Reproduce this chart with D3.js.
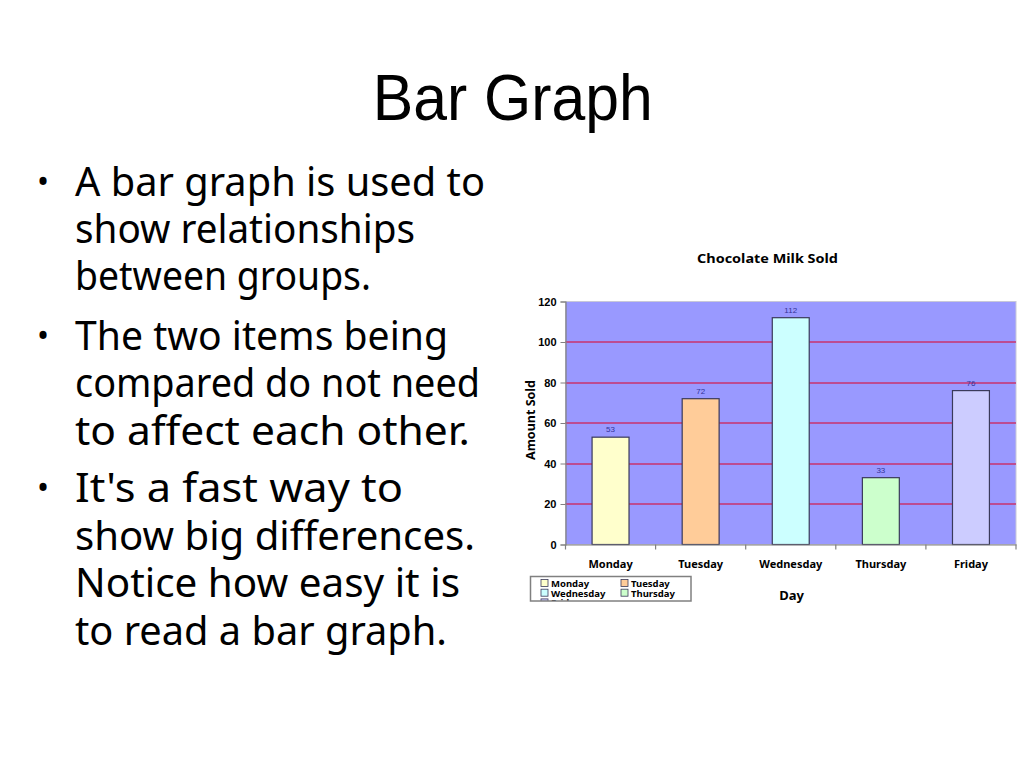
<!DOCTYPE html>
<html><head><meta charset="utf-8">
<script src="https://cdn.jsdelivr.net/npm/d3@7"></script>
<style>html,body{margin:0;padding:0;background:#fff;}svg{display:block;}</style>
</head><body>
<svg id="c" width="1024" height="768"></svg>
<script>
// ---- data ----
const slideTitle = "Bar Graph";
const bullets = [
  ["A bar graph is used to", "show relationships", "between groups."],
  ["The two items being", "compared do not need", "to affect each other."],
  ["It's a fast way to", "show big differences.", "Notice how easy it is", "to read a bar graph."]
];
const chartTitle = "Chocolate Milk Sold";
const days = ["Monday", "Tuesday", "Wednesday", "Thursday", "Friday"];
const sold = [53, 72, 112, 33, 76];
const yTicks = [0, 20, 40, 60, 80, 100, 120];
const xAxisTitle = "Day";
const yAxisTitle = "Amount Sold";
const barColors = ["#FFFFCC", "#FFCC99", "#CCFFFF", "#CCFFCC", "#CCCCFF"];

// ---- layout ----
const svg = d3.select("#c");
const comic = "'Noto Sans', 'DejaVu Sans', sans-serif";
const arial = "'Liberation Sans', Arial, sans-serif";

svg.append("text").attr("x", 512.7).attr("y", 120).attr("text-anchor", "middle")
  .attr("font-family", arial).attr("font-size", 65).attr("fill", "#000")
  .attr("textLength", 280).attr("lengthAdjust", "spacingAndGlyphs").text(slideTitle);

const paraBaselines = [[196, 243, 290], [350, 397, 445], [502, 550, 597, 645]];
const lineWidths = [[410, 340, 296], [373, 405, 395], [328, 400, 385, 372]];
bullets.forEach((para, pi) => {
  svg.append("text").attr("x", 43).attr("y", paraBaselines[pi][0] - 3)
    .attr("text-anchor", "middle").attr("font-family", comic).attr("font-size", 32)
    .attr("fill", "#000").text("\u2022");
  para.forEach((line, li) => {
    svg.append("text").attr("x", 75).attr("y", paraBaselines[pi][li])
      .attr("font-family", comic).attr("font-size", 40).attr("fill", "#000")
      .attr("textLength", lineWidths[pi][li]).attr("lengthAdjust", "spacingAndGlyphs")
      .text(line);
  });
});

// ---- chart ----
const L = 565.5, R = 1016, T = 301.5, B = 544.5;
const x = d3.scaleBand().domain(days).range([L, R]).padding(0);
const y = d3.scaleLinear().domain([0, 120]).range([B, T]);
const barW = x.bandwidth() * 0.41;

svg.append("text").attr("x", 767.5).attr("y", 263).attr("text-anchor", "middle")
  .attr("font-family", comic).attr("font-weight", "bold").attr("font-size", 13)
  .attr("textLength", 141).attr("lengthAdjust", "spacingAndGlyphs").text(chartTitle);

svg.append("rect").attr("x", L).attr("y", T).attr("width", R - L).attr("height", B - T)
  .attr("fill", "#9999FF").attr("stroke", "#c8c8d8").attr("stroke-width", 1);

const gy = d => Math.round(y(d));
svg.append("g").selectAll("line").data(yTicks.filter(t => t > 0 && t < 120)).join("line")
  .attr("x1", L).attr("x2", R).attr("y1", gy).attr("y2", gy)
  .attr("stroke", "#C8336E").attr("stroke-width", 1.5);

svg.append("g").selectAll("rect").data(days).join("rect")
  .attr("x", (d) => x(d) + (x.bandwidth() - barW) / 2)
  .attr("y", (d, i) => y(sold[i]))
  .attr("width", barW)
  .attr("height", (d, i) => B - y(sold[i]))
  .attr("fill", (d, i) => barColors[i])
  .attr("stroke", "#3a3a5a").attr("stroke-width", 1.2);

svg.append("g").selectAll("text").data(days).join("text")
  .attr("x", d => x(d) + x.bandwidth() / 2)
  .attr("y", (d, i) => y(sold[i]) - 5)
  .attr("text-anchor", "middle").attr("font-family", arial).attr("font-size", 8)
  .attr("fill", "#333399").text((d, i) => sold[i]);

// y axis
const yAxis = svg.append("g").attr("transform", `translate(${L},0)`)
  .call(d3.axisLeft(y).tickValues(yTicks).tickSize(5).tickPadding(4));
yAxis.select(".domain").attr("stroke", "#808080").attr("stroke-width", 1.2);
yAxis.selectAll(".tick line").attr("stroke", "#808080");
yAxis.selectAll(".tick text").attr("font-family", arial).attr("font-weight", "bold")
  .attr("font-size", 11).attr("fill", "#000");

// x axis
const xAxis = svg.append("g").attr("transform", `translate(0,${B})`)
  .call(d3.axisBottom(x).tickSize(0).tickPadding(18));
xAxis.select(".domain").attr("stroke", "#808080").attr("stroke-width", 1.2);
xAxis.selectAll(".tick text").attr("font-family", comic).attr("font-weight", "bold")
  .attr("font-size", 11).attr("fill", "#000").attr("dy", 0).attr("y", 23.5);
const bounds = days.map(d => x(d)).concat([x(days[days.length - 1]) + x.step()]);
svg.append("g").selectAll("line").data(bounds).join("line")
  .attr("x1", d => d).attr("x2", d => d).attr("y1", B).attr("y2", B + 5)
  .attr("stroke", "#808080").attr("stroke-width", 1.2);

svg.append("text").attr("x", 791.5).attr("y", 600).attr("text-anchor", "middle")
  .attr("font-family", comic).attr("font-weight", "bold").attr("font-size", 13)
  .text(xAxisTitle);
svg.append("text").attr("transform", "translate(535,420) rotate(-90)")
  .attr("text-anchor", "middle").attr("font-family", comic).attr("font-weight", "bold")
  .attr("font-size", 13).attr("textLength", 80).attr("lengthAdjust", "spacingAndGlyphs")
  .text(yAxisTitle);

// legend (clipped like the original)
const lg = { x: 530.5, y: 576.5, w: 160.5, h: 24.5 };
svg.append("clipPath").attr("id", "lgclip").append("rect")
  .attr("x", lg.x).attr("y", lg.y).attr("width", lg.w).attr("height", lg.h);
svg.append("rect").attr("x", lg.x).attr("y", lg.y).attr("width", lg.w).attr("height", lg.h)
  .attr("fill", "#fff");
const lgItems = svg.append("g").attr("clip-path", "url(#lgclip)");
days.forEach((d, i) => {
  const col = i % 2, row = Math.floor(i / 2);
  const sx = lg.x + 10.5 + col * 80, by = 587 + row * 9.7;
  lgItems.append("rect").attr("x", sx).attr("y", by - 7.5).attr("width", 7).attr("height", 7)
    .attr("fill", barColors[i]).attr("stroke", "#3a3a5a").attr("stroke-width", 0.8);
  lgItems.append("text").attr("x", sx + 10).attr("y", by).attr("font-family", comic)
    .attr("font-weight", "bold").attr("font-size", 9.5).attr("fill", "#000").text(d);
});
svg.append("rect").attr("x", lg.x).attr("y", lg.y).attr("width", lg.w).attr("height", lg.h)
  .attr("fill", "none").attr("stroke", "#808080").attr("stroke-width", 1.5);
</script>
</body></html>
